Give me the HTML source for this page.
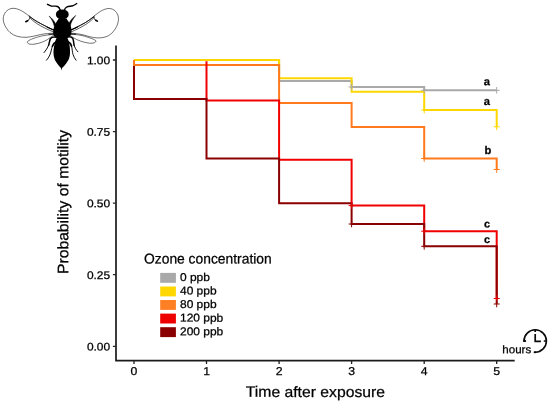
<!DOCTYPE html>
<html><head><meta charset="utf-8"><title>Probability of motility</title>
<style>
html,body{margin:0;padding:0;background:#fff;}
body{width:550px;height:403px;overflow:hidden;font-family:"Liberation Sans",Arial,sans-serif;}
svg{display:block}
text{font-family:"Liberation Sans",Arial,sans-serif;fill:#000;stroke:#000;stroke-width:0.25px;paint-order:stroke}
</style></head><body>
<svg width="550" height="403" viewBox="0 0 550 403">
<rect width="550" height="403" fill="#fff"/>
<g id="wasp" stroke-linecap="round" stroke-linejoin="round">
<!-- wings (outlined) -->
<g fill="none" stroke="#1a1a1a" stroke-width="0.62">
<!-- left forewing -->
<path d="M54.5 30.3 C48 27.5 38 22.5 33 19 C27 14.5 21 9 14 8.3 C8.5 8 4.5 12 3.5 16.5 C2.5 21 4.5 27 10 32.5 C14 36 20 37.6 26 37.3 C31 37 36 35.6 40.4 34.6 C45 33.6 50 33.2 54.5 33.2"/>
<path d="M29.3 16.9 C32 21 40 26.5 54 32.2" stroke-width="0.7"/>
<path d="M54.5 30.3 C48 27.5 38 22.5 33 19 C31.6 18 30.4 17 29.2 16" stroke-width="0.85" stroke="#000"/>
<!-- right forewing -->
<path d="M70 30.3 C76 27.5 85 23.5 90 19.5 C95.5 15 100.5 10 107.3 8.6 C112.5 7.8 116.5 11 118 15.5 C119.5 20.5 117.5 27.5 111.5 33.5 C108 36.8 103 38.2 97 37.9 C92 37.6 88 36.2 84.4 35.2 C80 34 75 33.2 70 33.2"/>
<path d="M94.2 17.2 C91 21.5 84 26.5 70.5 32.2" stroke-width="0.7"/>
<path d="M70 30.3 C76 27.5 85 23.5 90 19.5 C91.6 18.4 93 17.2 94.3 16.2" stroke-width="0.85" stroke="#000"/>
<!-- left hindwing -->
<path d="M54.5 34.5 C49 34.6 43 35.4 38.5 36.8 C33.5 38.3 28.5 40 27.2 42 C27.4 43.9 30.2 44.6 34 44.2 C39.5 43.6 46.5 41 50.8 37.2 C52 36.2 53.2 35.6 54.5 35.3"/>
<!-- right hindwing -->
<path d="M70 34.4 C75 34.3 80 34.9 84.5 36.2 C89.5 37.8 94.5 39.2 96 40.9 C96 42.6 93.2 43.5 89.5 43.2 C84 42.6 77.5 40.4 73.2 37.6 C72 36.6 71 36 70 35.6"/>
</g>
<g fill="none" stroke="#000" stroke-width="1">
<path d="M54.5 30.6 L47 27.2"/><path d="M70 30.6 L77.5 27.2"/>
<path d="M54.5 33.8 L49 34.3" stroke-width="0.9"/><path d="M70 33.8 L75.5 34.1" stroke-width="0.9"/>
</g>
<!-- stigma hooks -->
<g fill="none" stroke="#000">
<path d="M30 17.6 C29.6 19.4 28.6 20.4 27.2 21" stroke-width="0.9"/>
<path d="M27.6 20.8 L25.8 21.7" stroke-width="1.6"/>
<path d="M93.8 17.4 C94.2 19 95 19.9 96 20.5" stroke-width="0.9"/>
<path d="M95.8 20.3 L97.4 21.1" stroke-width="1.6"/>
</g>
<!-- legs and antennae -->
<g fill="none" stroke="#000" stroke-width="1.1">
<path d="M60.3 10.2 C59.8 8.6 59 7.2 57.6 6.5 C55.8 5.7 53.6 6.4 51.6 6.1 C50 5.8 48.8 5 47.5 4.3" stroke-width="1.4"/>
<path d="M64.3 10.2 C64.8 8.6 65.6 7.4 67 6.8 C68.8 6.1 70.8 6.3 72.7 5.8 C74.2 5.3 75.5 4.4 76.7 3.6" stroke-width="1.4"/>
<!-- front legs (tapered, filled) -->
<path d="M54.2 26.2 C53.6 22.8 51.8 19.4 49 16 C51.8 18 54.4 21 56 24.4 Z" fill="#000" stroke-width="0.4"/>
<path d="M70.4 25.8 C71 22.4 72.8 19 75.8 15.4 C72.8 17.4 70.2 20.4 68.6 23.8 Z" fill="#000" stroke-width="0.4"/>
<!-- left mid leg -->
<path d="M56.5 37.2 C54 36.8 51.6 37.3 50.6 38.4 C49.6 40.2 49.4 42.8 48.6 45.2" stroke-width="1.5"/>
<path d="M48.6 45.2 C47.6 48 45.8 50.4 44 52.6" stroke-width="0.95"/>
<!-- left hind leg -->
<path d="M57 41.2 C55 42.2 53.2 44 52.4 46.2" stroke-width="1.7"/>
<path d="M52.4 46.2 C51.3 49.4 51 52.4 49.8 55 C49 57 47.8 58.8 46.5 60.2" stroke-width="0.95"/>
<!-- right mid leg -->
<path d="M67.5 36.8 C70 36.6 72 37.2 72.8 38.4 C73.6 40.2 73.6 42.8 74.1 45.2" stroke-width="1.5"/>
<path d="M74.1 45.2 C74.8 47.8 76.3 50 77.9 51.8" stroke-width="0.95"/>
<!-- right hind leg -->
<path d="M67.5 41.2 C69.5 42.2 70.9 44 71.5 46" stroke-width="1.7"/>
<path d="M71.5 46 C72.4 49 72.2 52 73 54.4 C73.7 56.6 74.8 58.6 76 60.2" stroke-width="0.95"/>
</g>
<!-- body -->
<g fill="#000" stroke="none">
<ellipse cx="62.3" cy="14.4" rx="6.4" ry="5"/>
<path d="M58.4 18.6 C58.4 19.6 57.4 20.6 56.6 21.8 C55.4 23.6 54.4 25.6 53.8 27.8 C53.2 30 53 32.6 53.4 34.4 C53.9 36 55.4 37.2 56.6 38 C55.8 39.6 55 41.8 54.5 44.5 C53.9 47.2 53.4 50.4 53.5 53 C53.6 56 54.2 58.4 55.2 60.4 C56.4 62.6 57.8 64.4 59.3 66.2 C60 67 60.6 67.4 60.9 67.9 L61.45 70.5 L62 67.9 C62.5 67.4 63.2 66.8 63.9 66.2 C65.5 64.6 66.9 62.6 68.1 60.6 C69.3 58.4 69.9 56 70 53 C70.1 50.4 69.9 47.2 69.4 44.5 C68.9 41.8 68.2 39.6 67.4 38 C68.8 37.2 70.4 36 71 34.4 C71.6 32.4 71.6 30 71.2 27.8 C70.7 25.4 69.7 23.4 68.6 21.8 C67.8 20.6 66.8 19.6 66.8 18.6 Z"/>
</g>
</g>

<path d="M116.0 45.5V360.6H514.7" fill="none" stroke="#1a1a1a" stroke-width="1.7"/>
<path d="M112.9 346.3H115.6M112.9 274.7H115.6M112.9 203.1H115.6M112.9 131.6H115.6M112.9 60.0H115.6M134.0 360.6V363.9M206.5 360.6V363.9M279.1 360.6V363.9M351.6 360.6V363.9M424.2 360.6V363.9M496.7 360.6V363.9" fill="none" stroke="#222" stroke-width="1.3"/>
<text transform="translate(110.10 350.50) rotate(0.03) scale(1.0750 1)" font-size="11.1" text-anchor="end" fill="#000">0.00</text>
<text transform="translate(110.10 278.93) rotate(0.03) scale(1.0750 1)" font-size="11.1" text-anchor="end" fill="#000">0.25</text>
<text transform="translate(110.10 207.35) rotate(0.03) scale(1.0750 1)" font-size="11.1" text-anchor="end" fill="#000">0.50</text>
<text transform="translate(110.10 135.77) rotate(0.03) scale(1.0750 1)" font-size="11.1" text-anchor="end" fill="#000">0.75</text>
<text transform="translate(110.10 64.20) rotate(0.03) scale(1.0750 1)" font-size="11.1" text-anchor="end" fill="#000">1.00</text>
<text transform="translate(134.00 374.90) rotate(0.03) scale(1.0750 1)" font-size="11.4" text-anchor="middle" fill="#000">0</text>
<text transform="translate(206.54 374.90) rotate(0.03) scale(1.0750 1)" font-size="11.4" text-anchor="middle" fill="#000">1</text>
<text transform="translate(279.08 374.90) rotate(0.03) scale(1.0750 1)" font-size="11.4" text-anchor="middle" fill="#000">2</text>
<text transform="translate(351.62 374.90) rotate(0.03) scale(1.0750 1)" font-size="11.4" text-anchor="middle" fill="#000">3</text>
<text transform="translate(424.16 374.90) rotate(0.03) scale(1.0750 1)" font-size="11.4" text-anchor="middle" fill="#000">4</text>
<text transform="translate(496.70 374.90) rotate(0.03) scale(1.0750 1)" font-size="11.4" text-anchor="middle" fill="#000">5</text>
<path d="M134.0 60.0 V60.0 H206.5 V60.0 H279.1 V81.1 H351.6 V87.0 H424.2 V90.3 H496.7 V90.3" fill="none" stroke="#A9A9A9" stroke-width="2" stroke-linejoin="miter"/>
<path d="M134.0 60.0 V60.0 H206.5 V60.0 H279.1 V78.3 H351.6 V91.7 H424.2 V110.1 H496.7 V126.8" fill="none" stroke="#FFD700" stroke-width="2" stroke-linejoin="miter"/>
<path d="M134.0 60.0 V65.0 H206.5 V65.0 H279.1 V103.1 H351.6 V127.1 H424.2 V158.5 H496.7 V169.5" fill="none" stroke="#FF7A1C" stroke-width="2" stroke-linejoin="miter"/>
<path d="M206.5 61.2 V100.4 H279.1 V159.7 H351.6 V205.6 H424.2 V231.2 H496.7 V298.5" fill="none" stroke="#F00000" stroke-width="2" stroke-linejoin="miter"/>
<path d="M134.0 66.0 V99.0 H206.5 V158.5 H279.1 V203.3 H351.6 V224.0 H424.2 V246.3 H496.7 V304.0" fill="none" stroke="#8B0000" stroke-width="2" stroke-linejoin="miter"/>
<path d="M348.6 87.0h6.0M351.6 83.7v6.6M421.2 90.3h6.0M424.2 87.0v6.6M493.7 90.3h6.0M496.7 87.0v6.6" fill="none" stroke="#A9A9A9" stroke-width="1"/>
<path d="M421.2 110.1h6.0M424.2 106.8v6.6M493.7 126.8h6.0M496.7 123.5v6.6" fill="none" stroke="#FFD700" stroke-width="1"/>
<path d="M421.2 158.5h6.0M424.2 155.2v6.6M493.7 169.5h6.0M496.7 166.2v6.6" fill="none" stroke="#FF7A1C" stroke-width="1"/>
<path d="M348.6 205.6h6.0M351.6 202.3v6.6M421.2 231.2h6.0M424.2 227.9v6.6M493.7 298.5h6.0M496.7 295.2v6.6" fill="none" stroke="#F00000" stroke-width="1"/>
<path d="M348.6 224.0h6.0M351.6 220.7v6.6M421.2 246.3h6.0M424.2 243.0v6.6M493.7 304.0h6.0M496.7 300.7v6.6" fill="none" stroke="#8B0000" stroke-width="1"/>
<text transform="translate(486.90 85.30) rotate(0.03)" font-size="11.2" text-anchor="middle" font-weight="bold" stroke="none">a</text>
<text transform="translate(486.90 105.00) rotate(0.03)" font-size="11.2" text-anchor="middle" font-weight="bold" stroke="none">a</text>
<text transform="translate(487.80 154.10) rotate(0.03)" font-size="11.2" text-anchor="middle" font-weight="bold" stroke="none">b</text>
<text transform="translate(486.90 227.50) rotate(0.03)" font-size="10.8" text-anchor="middle" font-weight="bold" stroke="none">c</text>
<text transform="translate(486.90 242.90) rotate(0.03)" font-size="10.8" text-anchor="middle" font-weight="bold" stroke="none">c</text>
<text transform="translate(144.00 263.40) rotate(0.03) scale(0.9750 1)" font-size="14.2">Ozone concentration</text>
<text transform="translate(315.40 396.90) rotate(0.03) scale(1.0430 1)" font-size="15.1" text-anchor="middle">Time after exposure</text>
<text transform="translate(68.30 202.00) rotate(-90.03) scale(1.0350 1)" font-size="15.2" text-anchor="middle">Probability of motility</text>
<text transform="translate(502.30 353.30) rotate(0.03) scale(1.0350 1)" font-size="11.2">hours</text>
<rect x="160.2" y="272.9" width="15.7" height="9.9" fill="#A9A9A9"/>
<text transform="translate(180.00 280.90) rotate(0.03) scale(1.0600 1)" font-size="11.3">0 ppb</text>
<rect x="160.2" y="286.5" width="15.7" height="9.9" fill="#FFD700"/>
<text transform="translate(180.00 294.47) rotate(0.03) scale(1.0600 1)" font-size="11.3">40 ppb</text>
<rect x="160.2" y="300.0" width="15.7" height="9.9" fill="#FF7F24"/>
<text transform="translate(180.00 308.04) rotate(0.03) scale(1.0600 1)" font-size="11.3">80 ppb</text>
<rect x="160.2" y="313.6" width="15.7" height="9.9" fill="#EE0000"/>
<text transform="translate(180.00 321.61) rotate(0.03) scale(1.0600 1)" font-size="11.3">120 ppb</text>
<rect x="160.2" y="327.2" width="15.7" height="9.9" fill="#8B0000"/>
<text transform="translate(180.00 335.18) rotate(0.03) scale(1.0600 1)" font-size="11.3">200 ppb</text>
<g fill="none" stroke="#0a0a0a" stroke-width="1.6" stroke-linecap="round">
<path d="M524 341A11.2 11.2 0 1 1 535.2 352.2"/>
<path d="M535.2 329.6v2.5M546.6 341h-2.8" stroke-linecap="butt" stroke-width="1.7"/>
<path d="M535.2 334v7.3h5.7" stroke-linecap="butt" stroke-linejoin="miter" stroke-width="1.7"/>
<path d="M524 341h1.2M535.2 352.2h-.6" stroke-width="2"/>
</g>
</svg>
</body></html>
